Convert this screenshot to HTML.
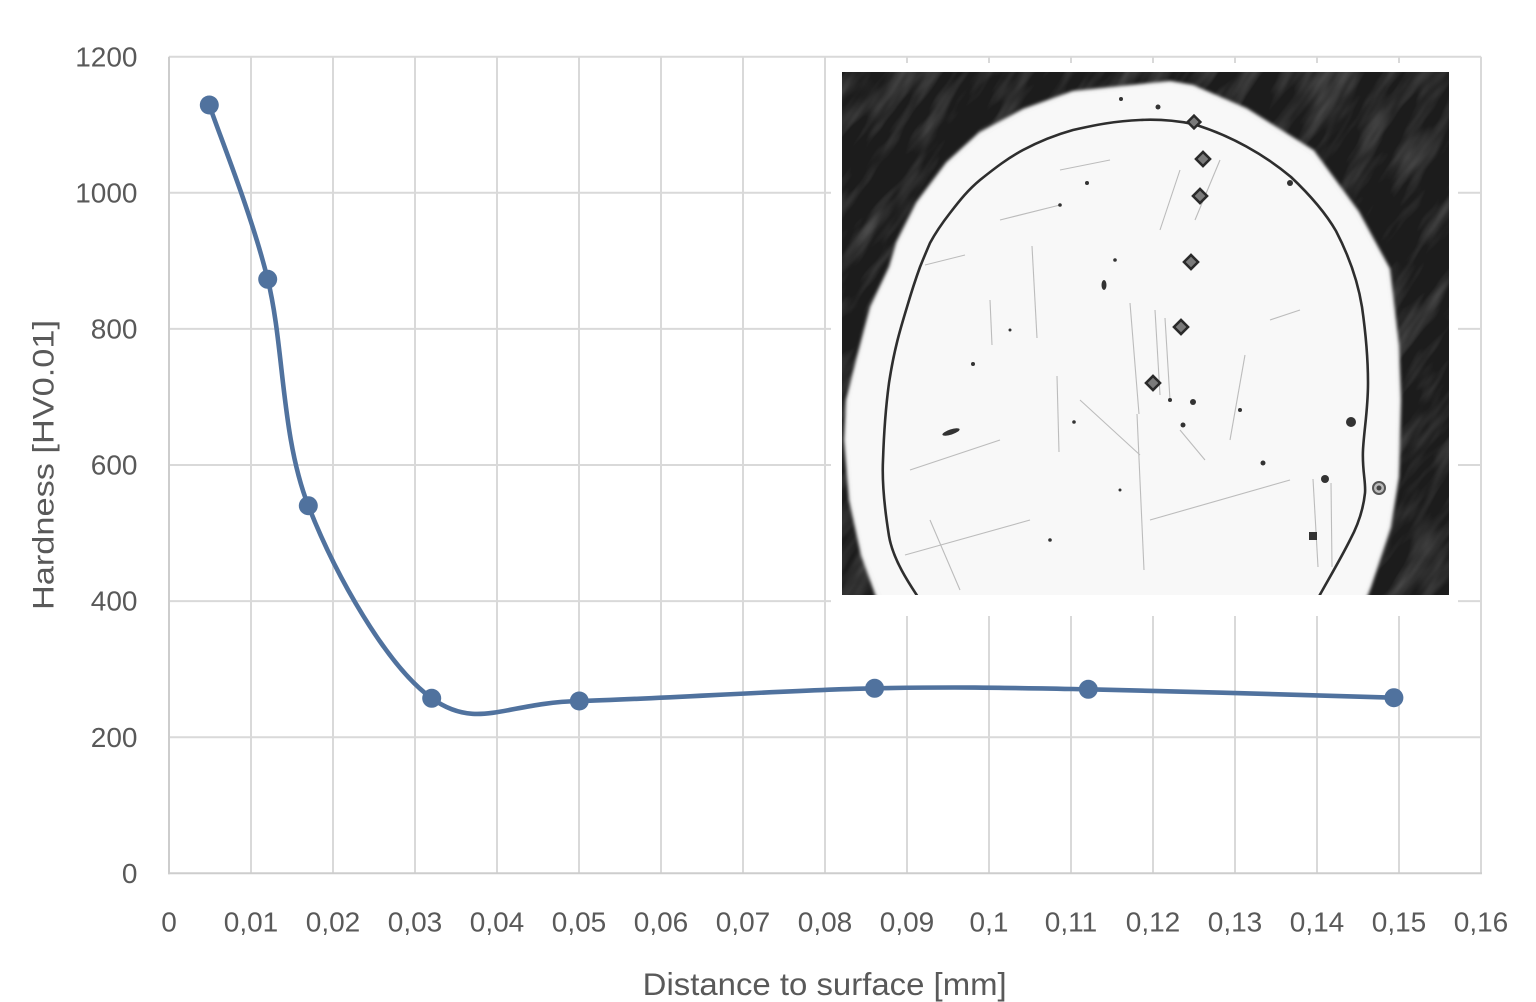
<!DOCTYPE html>
<html>
<head>
<meta charset="utf-8">
<style>
  html,body{margin:0;padding:0;background:#fff;}
  svg{display:block;}
  text{font-family:"Liberation Sans",Arial,sans-serif;fill:#595959;}
</style>
</head>
<body>
<svg width="1536" height="1002" viewBox="0 0 1536 1002" xmlns="http://www.w3.org/2000/svg">
  <defs>
    <clipPath id="photoClip"><rect x="842" y="72" width="607" height="523"/></clipPath>
    <filter id="noiseDark" x="0" y="0" width="100%" height="100%">
      <feTurbulence type="fractalNoise" baseFrequency="0.012 0.05" numOctaves="3" seed="4" result="n"/>
      <feColorMatrix type="matrix" values="0 0 0 0 0.3  0 0 0 0 0.3  0 0 0 0 0.3  0.9 0 0 0 -0.4" />
    </filter>
    <filter id="speck" x="0" y="0" width="100%" height="100%">
      <feTurbulence type="fractalNoise" baseFrequency="0.9" numOctaves="1" seed="7"/>
      <feColorMatrix type="matrix" values="0 0 0 0 0.5  0 0 0 0 0.5  0 0 0 0 0.5  0 0 0 -1.4 0.75" />
    </filter>
    <filter id="soft"><feGaussianBlur stdDeviation="1.6"/></filter>
  </defs>

  <rect x="0" y="0" width="1536" height="1002" fill="#ffffff"/>

  <!-- gridlines -->
  <g stroke="#d9d9d9" stroke-width="2">
    <line x1="251" y1="56.7" x2="251" y2="873.3"/>
    <line x1="333" y1="56.7" x2="333" y2="873.3"/>
    <line x1="415" y1="56.7" x2="415" y2="873.3"/>
    <line x1="497" y1="56.7" x2="497" y2="873.3"/>
    <line x1="579" y1="56.7" x2="579" y2="873.3"/>
    <line x1="661" y1="56.7" x2="661" y2="873.3"/>
    <line x1="743" y1="56.7" x2="743" y2="873.3"/>
    <line x1="825" y1="56.7" x2="825" y2="873.3"/>
    <line x1="907" y1="56.7" x2="907" y2="873.3"/>
    <line x1="989" y1="56.7" x2="989" y2="873.3"/>
    <line x1="1071" y1="56.7" x2="1071" y2="873.3"/>
    <line x1="1153" y1="56.7" x2="1153" y2="873.3"/>
    <line x1="1235" y1="56.7" x2="1235" y2="873.3"/>
    <line x1="1317" y1="56.7" x2="1317" y2="873.3"/>
    <line x1="1399" y1="56.7" x2="1399" y2="873.3"/>
    <line x1="1481" y1="56.7" x2="1481" y2="873.3"/>
    <line x1="169" y1="56.7" x2="1481" y2="56.7"/>
    <line x1="169" y1="192.8" x2="1481" y2="192.8"/>
    <line x1="169" y1="328.9" x2="1481" y2="328.9"/>
    <line x1="169" y1="465" x2="1481" y2="465"/>
    <line x1="169" y1="601.1" x2="1481" y2="601.1"/>
    <line x1="169" y1="737.2" x2="1481" y2="737.2"/>
  </g>
  <g stroke="#cdcdcd" stroke-width="2">
    <line x1="169" y1="56.7" x2="169" y2="874.3"/>
    <line x1="168" y1="873.3" x2="1482" y2="873.3"/>
  </g>

  <!-- y tick labels -->
  <g font-size="28" text-anchor="end">
    <text x="137.5" y="66.3">1200</text>
    <text x="137.5" y="202.4">1000</text>
    <text x="137.5" y="338.5">800</text>
    <text x="137.5" y="474.6">600</text>
    <text x="137.5" y="610.7">400</text>
    <text x="137.5" y="746.8">200</text>
    <text x="137.5" y="882.9">0</text>
  </g>

  <!-- x tick labels -->
  <g font-size="28" text-anchor="middle">
    <text x="169" y="931.7">0</text>
    <text x="251" y="931.7">0,01</text>
    <text x="333" y="931.7">0,02</text>
    <text x="415" y="931.7">0,03</text>
    <text x="497" y="931.7">0,04</text>
    <text x="579" y="931.7">0,05</text>
    <text x="661" y="931.7">0,06</text>
    <text x="743" y="931.7">0,07</text>
    <text x="825" y="931.7">0,08</text>
    <text x="907" y="931.7">0,09</text>
    <text x="989" y="931.7">0,1</text>
    <text x="1071" y="931.7">0,11</text>
    <text x="1153" y="931.7">0,12</text>
    <text x="1235" y="931.7">0,13</text>
    <text x="1317" y="931.7">0,14</text>
    <text x="1399" y="931.7">0,15</text>
    <text x="1481" y="931.7">0,16</text>
  </g>

  <!-- axis titles -->
  <text x="824.7" y="995" font-size="31.5" text-anchor="middle" textLength="364" lengthAdjust="spacingAndGlyphs">Distance to surface [mm]</text>
  <text transform="translate(53.5,465) rotate(-90)" x="0" y="0" font-size="30" text-anchor="middle" textLength="290" lengthAdjust="spacingAndGlyphs">Hardness [HV0.01]</text>

  <!-- inset white box -->
  <rect x="831" y="63" width="627" height="553" fill="#ffffff"/>

  <!-- inset photo -->
  <g clip-path="url(#photoClip)">
    <rect x="842" y="72" width="607" height="523" fill="#1c1c1c"/>
    <g transform="rotate(-55 1145 333)">
      <rect x="700" y="-100" width="900" height="900" filter="url(#noiseDark)"/>
    </g>
    <!-- white egg shape -->
    <path d="M880,605 L862,555 L850,500 L845,440 L847,400 L856,364 L871,307 L890,267 L897,243 L917,203 L947,163 L980,133 L1023,110 L1073,92 L1112,88 L1170,82 L1193,86 L1246,109 L1313,151 L1358,212 L1389,269 L1398,345 L1400,400 L1398,477 L1390,527 L1370,587 L1363,605 Z" fill="#f6f6f6" stroke="#f6f6f6" stroke-width="2" stroke-linejoin="round" filter="url(#soft)"/>
    <path d="M884,600 L866,555 L854,500 L849,440 L851,400 L860,364 L875,307 L894,267 L901,243 L921,203 L950,166 L983,137 L1025,114 L1074,96 L1112,92 L1170,86 L1192,90 L1244,113 L1310,155 L1354,214 L1385,271 L1394,345 L1396,400 L1394,477 L1386,527 L1366,587 L1359,600 Z" fill="#f8f8f8"/>
    <!-- inner contour -->
    <path d="M920,600 C910,585 893,560 889,536 C884,505 882,480 883,460 C884,430 886,405 889,383 C894,350 900,330 907,307 C912,290 916,278 920,267 C924,257 927,250 930,243 C937,230 943,222 950,213 C960,200 968,190 980,180 C995,168 1008,158 1023,150 C1040,141 1055,135 1073,130 C1095,125 1115,121 1140,120 C1160,119 1178,121 1193,124 C1230,135 1265,155 1291,177 C1310,195 1325,212 1336,231 C1350,258 1358,282 1362,307 C1366,335 1368,360 1368,383 C1368,410 1364,430 1363,450 C1362,470 1366,482 1365,493 C1363,512 1357,527 1350,540 C1340,560 1328,580 1317,600" fill="none" stroke="#2e2e2e" stroke-width="2.6"/>
    <!-- scratches -->
    <g stroke="#a8a8a8" stroke-width="1.1" fill="none" opacity="0.75">
      <line x1="1137" y1="414" x2="1144" y2="570"/>
      <line x1="1130" y1="303" x2="1139" y2="414"/>
      <line x1="1032" y1="246" x2="1037" y2="338"/>
      <line x1="990" y1="300" x2="992" y2="345"/>
      <line x1="1057" y1="376" x2="1059" y2="452"/>
      <line x1="1313" y1="479" x2="1318" y2="567"/>
      <line x1="1331" y1="483" x2="1332" y2="567"/>
      <line x1="1155" y1="310" x2="1160" y2="395"/>
      <line x1="1165" y1="318" x2="1170" y2="400"/>
      <line x1="925" y1="265" x2="965" y2="255"/>
      <line x1="910" y1="470" x2="1000" y2="440"/>
      <line x1="905" y1="555" x2="1030" y2="520"/>
      <line x1="1150" y1="520" x2="1290" y2="480"/>
      <line x1="1060" y1="170" x2="1110" y2="160"/>
      <line x1="1180" y1="170" x2="1160" y2="230"/>
      <line x1="1245" y1="355" x2="1230" y2="440"/>
      <line x1="1180" y1="430" x2="1205" y2="460"/>
      <line x1="1270" y1="320" x2="1300" y2="310"/>
      <line x1="1220" y1="160" x2="1195" y2="220"/>
      <line x1="1080" y1="400" x2="1140" y2="455"/>
      <line x1="1000" y1="220" x2="1060" y2="205"/>
      <line x1="930" y1="520" x2="960" y2="590"/>
    </g>
    <!-- spots -->
    <g fill="#333">
      <circle cx="1351" cy="422" r="5"/>
      <circle cx="1325" cy="479" r="4"/>
      <rect x="1309" y="532" width="8" height="8"/>
      <ellipse cx="951" cy="432" rx="9" ry="2.6" transform="rotate(-18 951 432)"/>
      <ellipse cx="1104" cy="285" rx="2.5" ry="5"/>
      <circle cx="1193" cy="402" r="3"/>
      <circle cx="1087" cy="183" r="2"/>
      <circle cx="1115" cy="260" r="1.8"/>
      <circle cx="1060" cy="205" r="1.8"/>
      <circle cx="973" cy="364" r="2"/>
      <circle cx="1183" cy="425" r="2.5"/>
      <circle cx="1263" cy="463" r="2.5"/>
      <circle cx="1240" cy="410" r="2"/>
      <circle cx="1074" cy="422" r="1.8"/>
      <circle cx="1050" cy="540" r="1.8"/>
      <circle cx="1120" cy="490" r="1.5"/>
      <circle cx="1010" cy="330" r="1.5"/>
      <circle cx="1290" cy="183" r="3"/>
      <circle cx="1121" cy="99" r="2"/>
      <circle cx="1158" cy="107" r="2.5"/>
      <circle cx="1170" cy="400" r="2"/>
    </g>
    <circle cx="1379" cy="488" r="6" fill="#bbb" stroke="#555" stroke-width="2"/>
    <circle cx="1379" cy="488" r="2.5" fill="#444"/>
    <!-- indentation diamonds -->
    <g fill="#7a7a7a" stroke="#2a2a2a" stroke-width="2.5">
      <rect x="-4.5" y="-4.5" width="9" height="9" transform="translate(1194,122) rotate(45)"/>
      <rect x="-5" y="-5" width="10" height="10" transform="translate(1203,159) rotate(45)"/>
      <rect x="-5" y="-5" width="10" height="10" transform="translate(1200,196) rotate(45)"/>
      <rect x="-5" y="-5" width="10" height="10" transform="translate(1191,262) rotate(45)"/>
      <rect x="-5" y="-5" width="10" height="10" transform="translate(1181,327) rotate(45)"/>
      <rect x="-5" y="-5" width="10" height="10" transform="translate(1153,383) rotate(45)"/>
    </g>
  </g>

  <!-- data series -->
  <path d="M209.3,105 C219.0,134.05 251.2,212.5 267.7,279.3 C284.2,346.1 281.0,435.9 308.3,505.7 C335.6,575.5 386.5,665.7 431.7,698.3 C476.9,730.9 505.5,702.7 579.3,701 C653.1,699.3 789.8,689.9 874.6,688.3 C959.4,686.7 1001.7,687.7 1088.3,689.3 C1174.9,690.9 1343,696.3 1393.9,697.7" fill="none" stroke="#50729e" stroke-width="4.6" stroke-linecap="round" stroke-linejoin="round"/>
  <g fill="#50729e">
    <circle cx="209.3" cy="105" r="9.5"/>
    <circle cx="267.7" cy="279.3" r="9.5"/>
    <circle cx="308.3" cy="505.7" r="9.5"/>
    <circle cx="431.7" cy="698.3" r="9.5"/>
    <circle cx="579.3" cy="701" r="9.5"/>
    <circle cx="874.6" cy="688.3" r="9.5"/>
    <circle cx="1088.3" cy="689.3" r="9.5"/>
    <circle cx="1393.9" cy="697.7" r="9.5"/>
  </g>
</svg>
</body>
</html>
